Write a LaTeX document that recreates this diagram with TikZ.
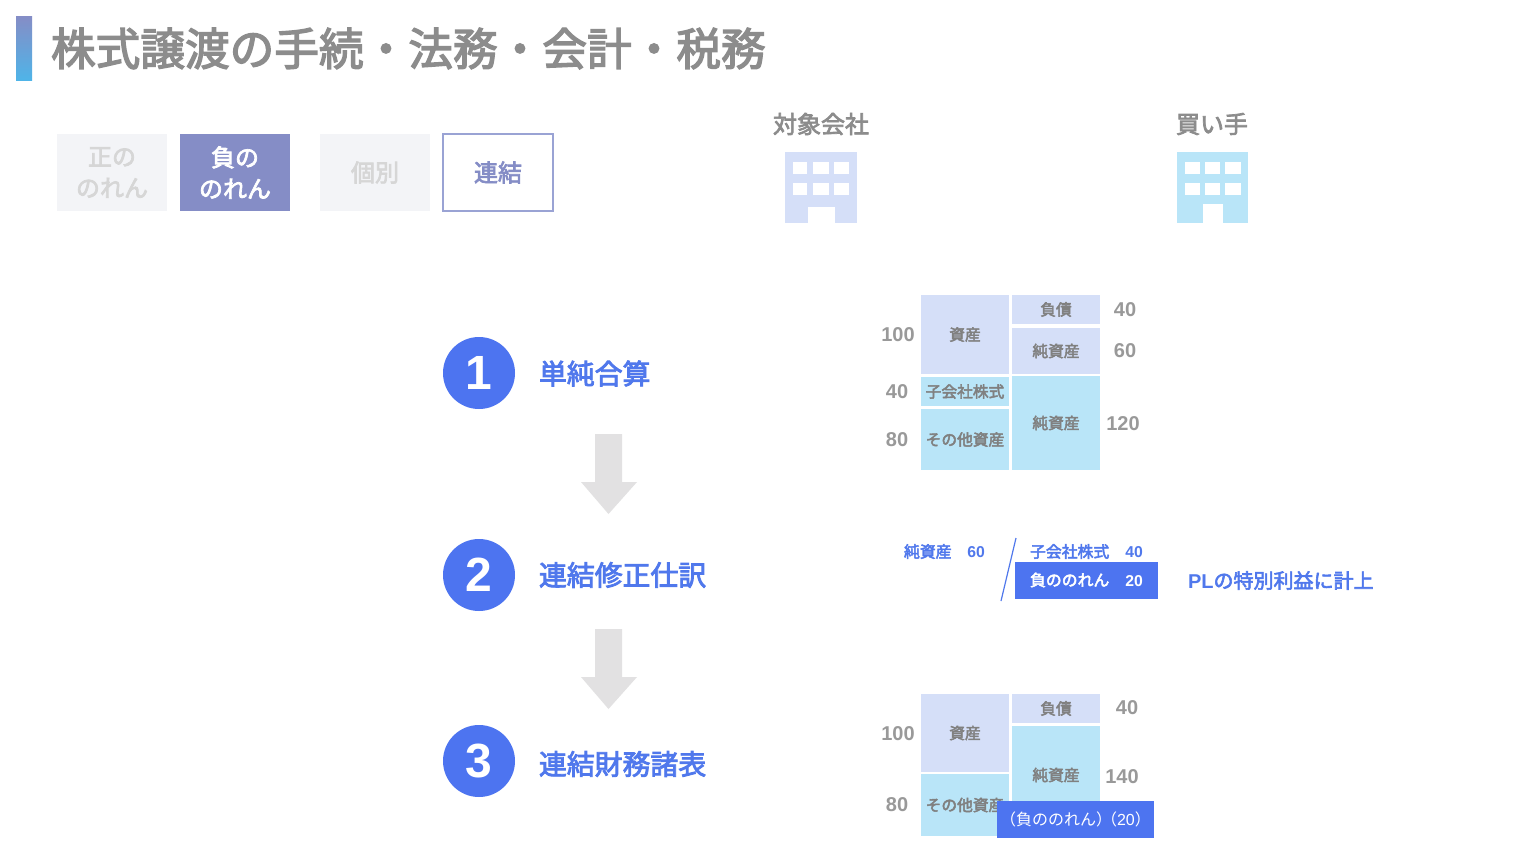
\documentclass[tikz,border=0pt]{standalone}
\usepackage{fontspec}
\setmainfont{Noto Sans CJK JP}[BoldFont=Noto Sans CJK JP,BoldFeatures={FakeBold=3}]
\newfontfamily\lat{Liberation Sans}
\definecolor{titlegray}{HTML}{8C8C8C}
\definecolor{labelgray}{HTML}{808080}
\definecolor{numgray}{HTML}{999999}
\definecolor{lilac}{HTML}{858DC6}
\definecolor{lilacline}{HTML}{9AA3D4}
\definecolor{offfill}{HTML}{F3F4F7}
\definecolor{offtext}{HTML}{D6D6D6}
\definecolor{paleblue}{HTML}{D5DFF8}
\definecolor{palecyan}{HTML}{B9E5F8}
\definecolor{barcyan}{HTML}{4FB4E8}
\definecolor{vivid}{HTML}{4D74F0}
\definecolor{vividtext}{HTML}{5078EC}
\definecolor{arrowgray}{HTML}{E2E1E2}
\tikzset{
  x=.75pt,y=-.75pt,
  txt/.style={inner sep=0pt,outer sep=0pt,align=center},
  box/.style={txt,anchor=north west,draw=none},
  cell/.style={font=\fontsize{11.8pt}{14pt}\selectfont\bfseries,text=labelgray},
  num/.style={txt,font=\fontsize{15pt}{18pt}\selectfont\lat\bfseries,text=numgray},
  btn/.style={font=\fontsize{18pt}{23.5pt}\selectfont\bfseries},
  steplabel/.style={txt,anchor=west,font=\fontsize{20.9pt}{25pt}\selectfont\bfseries,text=vividtext},
  stepcircle/.style={circle,fill=vivid,minimum size=54pt,inner sep=0pt,text=white,font=\fontsize{36pt}{40pt}\selectfont\lat\bfseries},
  jnl/.style={txt,font=\fontsize{11.9pt}{14pt}\selectfont\bfseries,text=vividtext},
  jnlnum/.style={txt,font=\fontsize{11.8pt}{14pt}\selectfont\lat\bfseries,text=vividtext},
  heading/.style={txt,font=\fontsize{18pt}{22pt}\selectfont\bfseries,text=titlegray},
}
\newcommand{\bx}[7]{\node[box,minimum width=#4*0.75pt,minimum height=#5*0.75pt,#6] (#1) at (#2,#3) {#7};}
\begin{document}
\begin{tikzpicture}
\useasboundingbox (0,0) rectangle (1536,864);
\fill[white] (0,0) rectangle (1536,864);
% title
\fill[top color=lilac,bottom color=barcyan] (16,16) rectangle (32,80);
\node[txt,anchor=west,text=titlegray,font=\fontsize{33.5pt}{40pt}\selectfont\bfseries] (title) at (51,48.5) {株式譲渡の手続・法務・会計・税務};
% tabs
\bx{tabA}{57}{134}{110}{77}{fill=offfill,btn,text=offtext}{正の\\のれん}
\bx{tabB}{180}{134}{110}{77}{fill=lilac,btn,text=white}{負の\\のれん}
\bx{tabC}{320}{134}{110}{77}{fill=offfill,btn,text=offtext}{個別}
\bx{tabD}{443}{134}{110}{77}{draw=lilacline,line width=1.3pt,fill=white,btn,text=lilac}{連結}
% companies
\node[heading] (target) at (821,124) {対象会社};
\node[heading] (buyer) at (1212,124) {買い手};
\fill[paleblue] (785,152) rectangle (857,223);
\foreach \wx/\ww in {793/14,813/16,834/15} \foreach \wy in {162,183} {\fill[white] (\wx,\wy) rectangle +(\ww,12);}
\fill[white] (808,207) rectangle (835,223);
\fill[palecyan] (1177,152) rectangle (1248,223);
\foreach \wx/\ww in {1185/15,1205/15,1225/16} \foreach \wy in {162,183} {\fill[white] (\wx,\wy) rectangle +(\ww,12);}
\fill[white] (1203,204) rectangle (1223,223);
% steps
\node[stepcircle] (s1) at (479,373) {1};
\node[stepcircle] (s2) at (479,575) {2};
\node[stepcircle] (s3) at (479,761) {3};
\node[steplabel] (l1) at (539,373.5) {単純合算};
\node[steplabel] (l2) at (539,575) {連結修正仕訳};
\node[steplabel] (l3) at (539,764) {連結財務諸表};
\fill[arrowgray] (595,434) -- (622,434) -- (622,482) -- (637,482) -- (608.5,514) -- (581,482) -- (595,482) -- cycle;
\fill[arrowgray] (595,629) -- (622,629) -- (622,677) -- (637,677) -- (608.5,709) -- (581,677) -- (595,677) -- cycle;
% table 1
\bx{a1}{921}{295}{88}{79}{fill=paleblue,cell}{資産}
\bx{a2}{921}{377}{88}{29}{fill=palecyan,cell}{子会社株式}
\bx{a3}{921}{409}{88}{61}{fill=palecyan,cell}{その他資産}
\bx{b1}{1012}{295}{88}{29}{fill=paleblue,cell}{負債}
\bx{b2}{1012}{328}{88}{46}{fill=paleblue,cell}{純資産}
\bx{b3}{1012}{376}{88}{94}{fill=palecyan,cell}{純資産}
\node[num] (n1) at (898,335) {100};
\node[num] (n2) at (897,392) {40};
\node[num] (n3) at (897,440) {80};
\node[num] (n4) at (1125,310) {40};
\node[num] (n5) at (1125,351) {60};
\node[num] (n6) at (1123,424) {120};
% journal
\node[jnl,anchor=west] (j1) at (904,551.5) {純資産};
\node[jnlnum] (j2) at (976,552) {60};
\coordinate (slashA) at (1016,538);
\coordinate (slashB) at (1001,601);
\draw[vividtext,line width=.9pt] (slashA) -- (slashB);
\node[jnl,anchor=west] (j3) at (1030,551.5) {子会社株式};
\node[jnlnum] (j4) at (1134,552) {40};
\bx{jbox}{1015}{562}{143}{37}{fill=vivid}{}
\node[jnl,anchor=west,text=white] (j5) at (1030,580) {負ののれん};
\node[jnlnum,text=white] (j6) at (1134,581) {20};
\node[txt,anchor=west,text=vividtext,font=\fontsize{15pt}{18pt}\selectfont\bfseries] (pl) at (1188,580.5) {{\lat PL}の特別利益に計上};
% table 3
\bx{c1}{921}{694}{88}{78}{fill=paleblue,cell}{資産}
\bx{c2}{921}{774}{88}{62}{fill=palecyan}{}
\node[cell,txt] (c2t) at (965,805) {その他資産};
\bx{d1}{1012}{694}{88}{29}{fill=paleblue,cell}{負債}
\bx{d2}{1012}{726}{88}{110}{fill=palecyan}{}
\node[cell,txt] (d2t) at (1056,775) {純資産};
\node[num] (m1) at (898,734) {100};
\node[num] (m2) at (897,805) {80};
\node[num] (m3) at (1127,708) {40};
\node[num] (m4) at (1122,777) {140};
\bx{nbox}{997}{801}{157}{37}{fill=vivid,text=white,font=\fontsize{12pt}{14pt}\selectfont}{（負ののれん）\kern-.7em（{\lat 20}）}
\end{tikzpicture}
\end{document}
